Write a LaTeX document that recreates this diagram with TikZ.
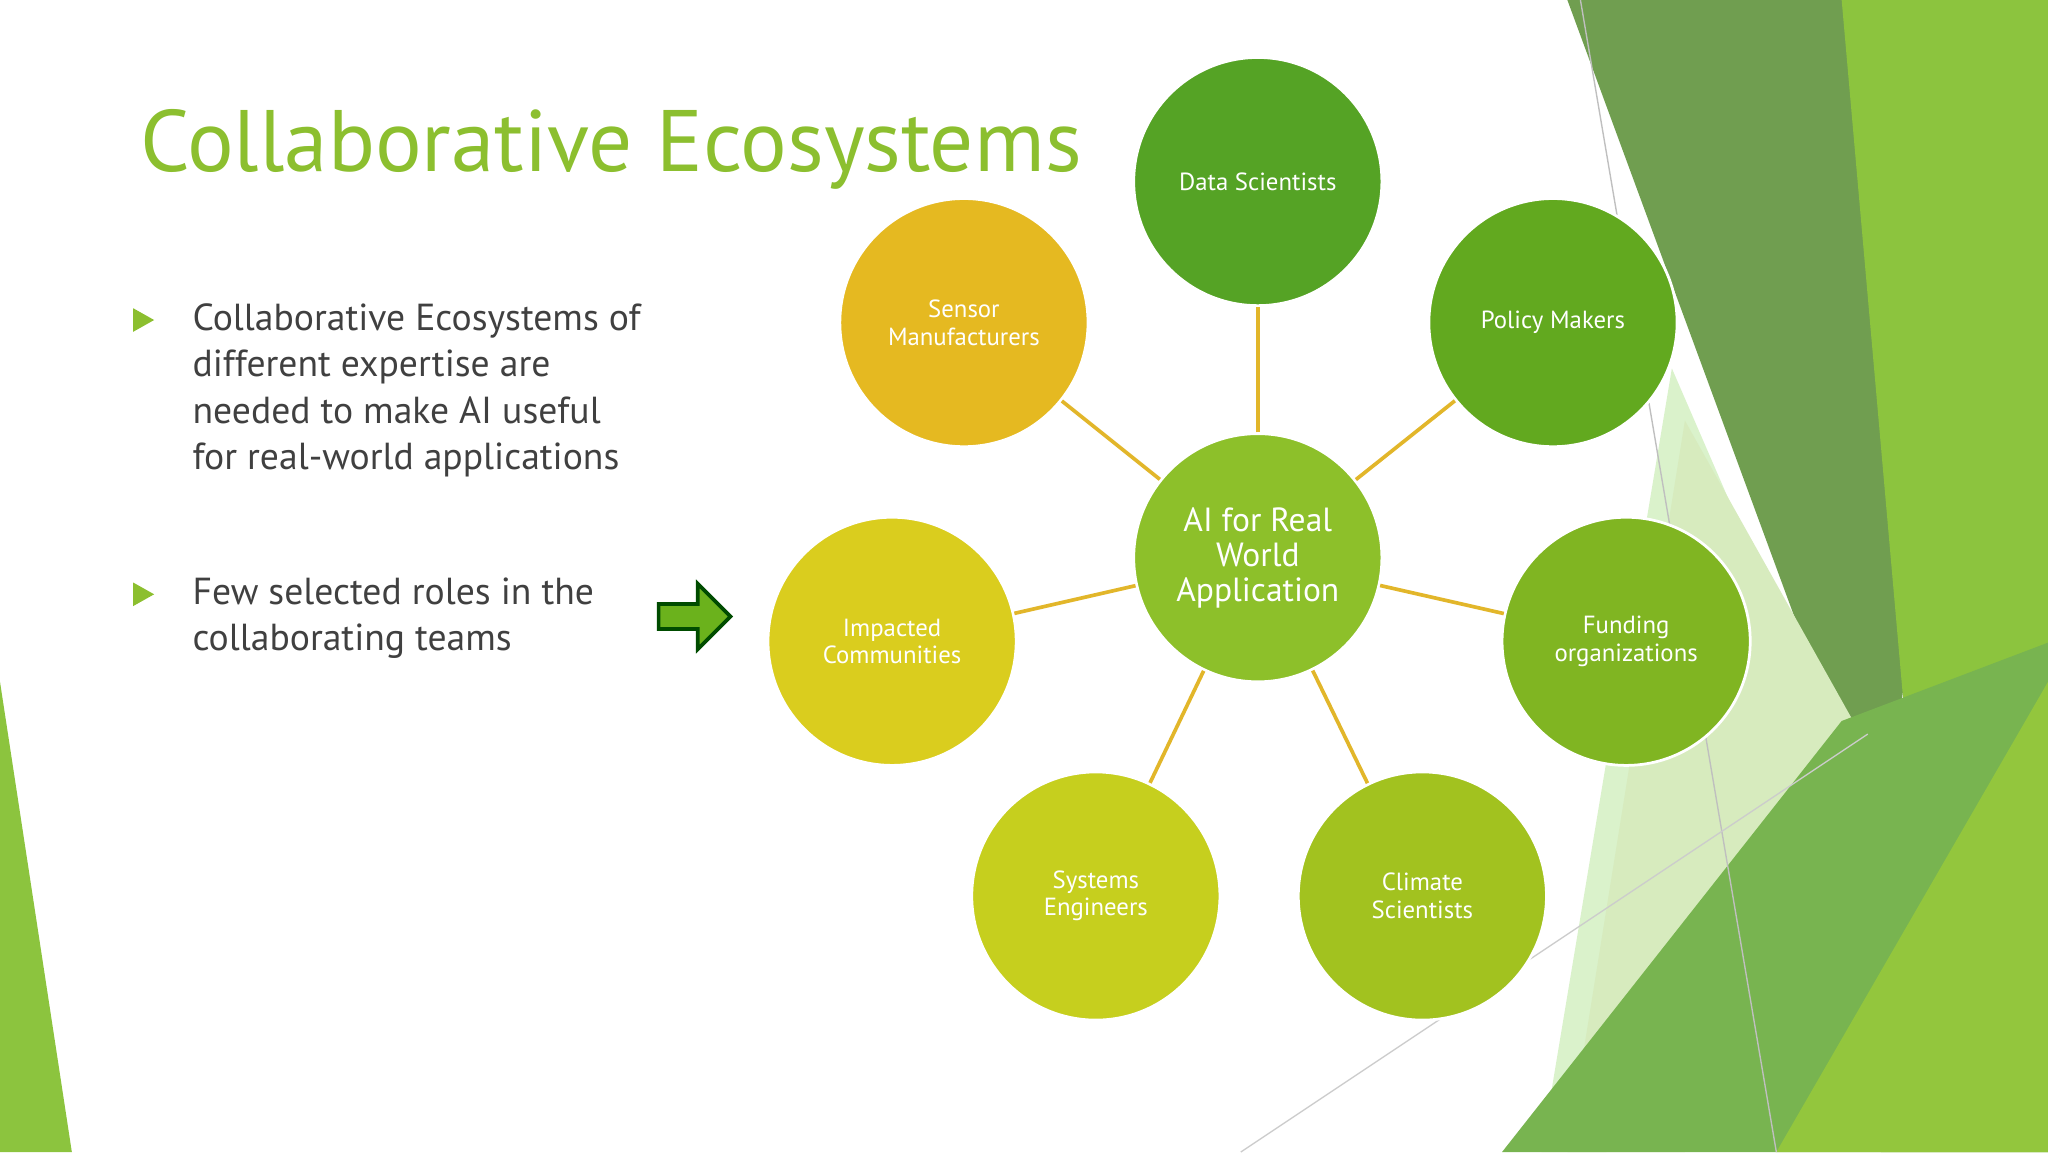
\documentclass[tikz,border=0pt]{standalone}
\usepackage{fontspec}
\setmainfont{PT Sans}
\usetikzlibrary{shapes.arrows}
\definecolor{titlegreen}{HTML}{8CBF2F}
\definecolor{linegold}{HTML}{E2B62A}
\definecolor{cCenter}{HTML}{8DC02A}
\definecolor{cData}{HTML}{55A325}
\definecolor{cPolicy}{HTML}{62A91F}
\definecolor{cFund}{HTML}{80B522}
\definecolor{cClimate}{HTML}{A2C21F}
\definecolor{cSystems}{HTML}{C6CF1E}
\definecolor{cImpact}{HTML}{DACD1E}
\definecolor{cSensor}{HTML}{E5B921}
\tikzset{
  role/.style={circle, minimum size=1.9cm, draw=white, line width=0.6pt, text=white,
    align=center, font=\fontsize{5.4}{6}\selectfont},
  spoke/.style={draw=linegold, line width=0.8pt},
  bullet/.style={fill=titlegreen, draw=none}
}
\begin{document}
\begin{tikzpicture}
\useasboundingbox (0,0) rectangle (15.68,8.82);
% we draw the background shapes
\fill[white] (0,0) rectangle (15.68,8.82);
\fill[green!50!lime!60!gray, opacity=0.25] (12.8,6.0) -- (14.1,3.0) -- (12.3,0) -- (11.8,0) -- cycle;
\fill[color={rgb,255:red,112;green,158;blue,80}] (12.0,8.82) -- (15.3,8.82) -- (14.4,2.3) -- cycle;
\fill[color={rgb,255:red,140;green,196;blue,62}] (14.1,8.82) -- (15.68,8.82) -- (15.68,0) -- (14.4,0) -- (14.7,2.0) -- cycle;
\fill[color={rgb,255:red,215;green,235;blue,190}] (12.9,5.6) -- (14.3,3.1) -- (12.9,0) -- (12.0,0) -- cycle;
\fill[color={rgb,255:red,120;green,180;blue,80}] (11.5,0) -- (14.1,3.3) -- (15.68,3.9) -- (15.68,0) -- cycle;
\fill[color={rgb,255:red,150;green,200;blue,60}, opacity=0.9] (13.6,0) -- (15.68,3.6) -- (15.68,0) -- cycle;
\draw[gray!50, line width=0.3pt] (12.1,8.82) -- (13.6,0);
\draw[gray!40, line width=0.3pt] (9.5,0) -- (14.3,3.2);
\fill[color={rgb,255:red,140;green,196;blue,62}] (0,3.6) -- (0.55,0) -- (0,0) -- cycle;

% title and bullet text
\node[anchor=west, text=titlegreen, font=\fontsize{19}{22}\selectfont] (title) at (0.95,7.68) {Collaborative Ecosystems};
\fill[bullet] (1.02,6.46) -- (1.18,6.37) -- (1.02,6.28) -- cycle;
\fill[bullet] (1.02,4.36) -- (1.18,4.27) -- (1.02,4.18) -- cycle;
\node[anchor=north west, text=black!75, align=left, font=\fontsize{8.2}{10.1}\selectfont] (point1) at (1.35,6.62)
  {Collaborative Ecosystems of\\different expertise are\\needed to make AI useful\\for real-world applications};
\node[anchor=north west, text=black!75, align=left, font=\fontsize{8.2}{10.1}\selectfont] (point2) at (1.35,4.52)
  {Few selected roles in the\\collaborating teams};
\node[single arrow, draw=black!70!green, fill=cPolicy!90!lime, line width=0.8pt,
  minimum width=0.5cm, single arrow head extend=0.08cm, minimum height=0.55cm, inner sep=1pt] (pointer) at (5.27,4.1) {};

% the roles around the application
\node[role, fill=cCenter, font=\fontsize{7.3}{7.6}\selectfont] (app) at (9.63,4.55) {AI for Real\\World\\Application};
\node[role, fill=cData] (data) at (9.63,7.43) {Data Scientists};
\node[role, fill=cPolicy] (policy) at (11.89,6.35) {Policy Makers};
\node[role, fill=cFund] (fund) at (12.45,3.91) {Funding\\organizations};
\node[role, fill=cClimate] (climate) at (10.89,1.96) {Climate\\Scientists};
\node[role, fill=cSystems] (systems) at (8.39,1.96) {Systems\\Engineers};
\node[role, fill=cImpact] (impact) at (6.83,3.91) {Impacted\\Communities};
\node[role, fill=cSensor] (sensor) at (7.38,6.35) {Sensor\\Manufacturers};

\foreach \r in {data,policy,fund,climate,systems,impact,sensor}
  \draw[spoke] (app) -- (\r);
\end{tikzpicture}
\end{document}
